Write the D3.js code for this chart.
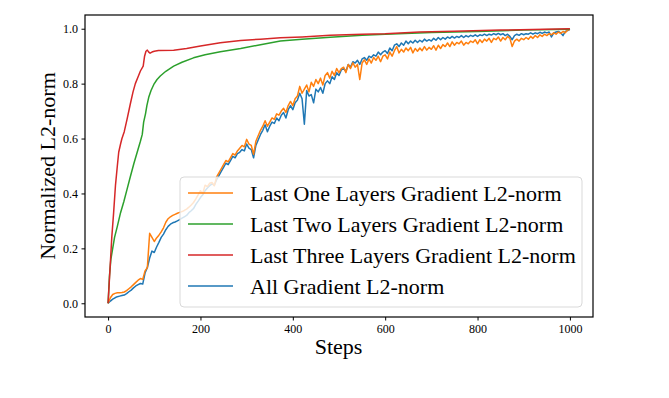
<!DOCTYPE html>
<html>
<head>
<meta charset="utf-8">
<script src="https://cdn.jsdelivr.net/npm/d3@7"></script>
<style>
  body { margin: 0; background: #fff; }
  text { font-family: "Liberation Serif", "Times New Roman", serif; }
</style>
</head>
<body>
<div id="chart"></div>
<script>
// steps for the noisy series (every 5 steps)
var noisySteps = d3.range(0, 1001, 5);

// Last One Layers Gradient L2-norm (orange)
var lastOne = [
  0, .020, .032, .036, .038, .038, .039, .041, .046, .053,
  .060, .068, .076, .084, .090, .087, .118, .130, .255, .240,
  .225, .238, .248, .260, .275, .295, .308, .315, .320, .324,
  .328, .331, .334, .338, .343, .350, .358, .367, .380, .395,
  .410, .400, .430, .425, .437, .440, .428, .460, .475, .490,
  .505, .520, .515, .530, .545, .540, .555, .565, .575, .570,
  .597, .580, .575, .543, .590, .610, .630, .645, .665, .645,
  .660, .675, .670, .690, .685, .700, .710, .695, .720, .735,
  .720, .745, .755, .790, .765, .780, .795, .770, .805, .790,
  .815, .800, .820, .795, .830, .840, .820, .845, .830, .855,
  .840, .855, .860, .840, .870, .855, .876, .860, .870, .815,
  .875, .887, .870, .890, .875, .895, .885, .900, .880, .900,
  .905, .890, .915, .900, .920, .935, .912, .925, .915, .930,
  .920, .932, .912, .928, .918, .930, .920, .935, .922, .932,
  .925, .938, .922, .940, .928, .942, .935, .948, .935, .952,
  .940, .950, .945, .955, .940, .950, .945, .955, .950, .960,
  .945, .960, .950, .962, .955, .965, .950, .965, .960, .970,
  .955, .968, .960, .972, .965, .935, .955, .962, .955, .965,
  .960, .968, .962, .972, .965, .975, .968, .978, .972, .980,
  .975, .982, .978, .985, .980, .988, .983, .990, .985, .995,
  .997
];

// All Gradient L2-norm (blue)
var allGrad = [
  0, .008, .015, .020, .024, .026, .028, .030, .035, .042,
  .048, .056, .063, .068, .072, .070, .110, .130, .165, .190,
  .185, .205, .222, .240, .252, .268, .280, .288, .293, .296,
  .300, .305, .310, .315, .320, .330, .337, .345, .360, .372,
  .385, .395, .410, .420, .428, .435, .430, .450, .465, .480,
  .495, .510, .505, .520, .535, .530, .545, .550, .560, .555,
  .580, .565, .560, .530, .575, .595, .615, .630, .650, .625,
  .645, .660, .655, .675, .665, .685, .695, .675, .705, .720,
  .705, .730, .740, .765, .745, .652, .775, .755, .760, .730,
  .780, .770, .786, .765, .800, .810, .800, .825, .815, .840,
  .830, .850, .855, .845, .870, .860, .880, .875, .885, .870,
  .890, .895, .885, .900, .895, .905, .900, .915, .905, .915,
  .920, .910, .930, .920, .940, .945, .935, .948, .940, .955,
  .945, .955, .948, .958, .950, .958, .952, .962, .955, .960,
  .955, .965, .958, .968, .960, .968, .962, .970, .965, .972,
  .966, .972, .968, .975, .968, .975, .970, .976, .972, .978,
  .972, .978, .975, .980, .975, .980, .977, .982, .978, .983,
  .978, .982, .975, .980, .972, .960, .975, .980, .976, .982,
  .978, .982, .980, .985, .980, .985, .982, .987, .983, .988,
  .985, .988, .970, .985, .988, .990, .985, .975, .990, .993,
  .998
];

// Last Two Layers Gradient L2-norm (green)
var lastTwoSteps = [0, 3, 6, 9, 14, 20, 27, 34, 41, 48, 56, 63, 70, 74, 77, 81, 84, 88, 93, 99,
  106, 113, 125, 142, 160, 185, 210, 243, 287, 330, 373, 420, 481, 550, 600, 700, 800, 900, 1000];
var lastTwo = [0, .10, .16, .19, .24, .28, .33, .37, .415, .46, .51, .55, .59, .615, .66, .69, .72, .75, .775, .797,
  .815, .828, .845, .864, .878, .894, .905, .916, .928, .942, .955, .962, .969, .976, .980, .986, .990, .995, .998];

// Last Three Layers Gradient L2-norm (red)
var lastThreeSteps = [0, 4, 8, 12, 16, 20, 23, 27, 30, 35, 41, 48, 54, 59, 65, 70, 76, 79, 82, 85,
  88, 91, 95, 100, 109, 142, 170, 200, 243, 287, 330, 373, 420, 481, 550, 600, 675, 750, 850, 1000];
var lastThree = [0, .12, .24, .33, .43, .50, .55, .58, .60, .625, .67, .725, .77, .80, .825, .846, .864, .90, .918, .922,
  .915, .911, .915, .918, .921, .922, .928, .937, .949, .957, .962, .967, .970, .976, .980, .982, .988, .991, .995, 1.0];

var xTicks = [0, 200, 400, 600, 800, 1000];
var yTicks = [0, 0.2, 0.4, 0.6, 0.8, 1.0];
var legendLabels = ["Last One Layers Gradient L2-norm", "Last Two Layers Gradient L2-norm",
  "Last Three Layers Gradient L2-norm", "All Gradient L2-norm"];
var legendColors = ["#ff7f0e", "#2ca02c", "#d62728", "#1f77b4"];

var W = 669, H = 398;
var plot = {left: 85, right: 593, top: 15, bottom: 317};
var serif = "'Liberation Serif', 'Times New Roman', serif";

var x = d3.scaleLinear().domain([-50, 1050]).range([plot.left, plot.right]);
var y = d3.scaleLinear().domain([-0.05, 1.05]).range([plot.bottom, plot.top]);

var svg = d3.select("#chart").append("svg")
    .attr("width", W)
    .attr("height", H);

svg.append("defs").append("clipPath").attr("id", "clip")
  .append("rect")
    .attr("x", plot.left).attr("y", plot.top)
    .attr("width", plot.right - plot.left).attr("height", plot.bottom - plot.top);

var line = d3.line()
    .x(function(d) { return x(d[0]); })
    .y(function(d) { return y(d[1]); });

function pairs(xs, ys) {
    return xs.map(function(s, i) { return [s, ys[i]]; });
}

var series = [
    {data: pairs(noisySteps, allGrad), color: "#1f77b4"},
    {data: pairs(noisySteps, lastOne), color: "#ff7f0e"},
    {data: pairs(lastTwoSteps, lastTwo), color: "#2ca02c"},
    {data: pairs(lastThreeSteps, lastThree), color: "#d62728"}
];

var lines = svg.append("g").attr("clip-path", "url(#clip)");
series.forEach(function(s) {
    lines.append("path")
        .datum(s.data)
        .attr("d", line)
        .attr("fill", "none")
        .attr("stroke", s.color)
        .attr("stroke-width", 1.5)
        .attr("stroke-linejoin", "round");
});

// axes
var xAxis = svg.append("g")
    .attr("transform", "translate(0," + plot.bottom + ")")
    .call(d3.axisBottom(x).tickValues(xTicks).tickFormat(d3.format("d")).tickSize(3.5).tickPadding(3.5));
var yAxis = svg.append("g")
    .attr("transform", "translate(" + plot.left + ",0)")
    .call(d3.axisLeft(y).tickValues(yTicks).tickFormat(d3.format(".1f")).tickSize(3.5).tickPadding(3.5));

[xAxis, yAxis].forEach(function(a) {
    a.attr("font-family", serif).attr("font-size", 12);
    a.select(".domain").remove();
    a.selectAll("text").attr("fill", "#000").style("font-family", serif).style("font-size", "12px");
    a.selectAll("line").attr("stroke", "#000").attr("stroke-width", 1);
});

// spines
svg.append("rect")
    .attr("x", plot.left).attr("y", plot.top)
    .attr("width", plot.right - plot.left).attr("height", plot.bottom - plot.top)
    .attr("fill", "none")
    .attr("stroke", "#000")
    .attr("stroke-width", 1.2);

// axis labels
svg.append("text")
    .attr("x", (plot.left + plot.right) / 2 - 0.5)
    .attr("y", 354)
    .attr("text-anchor", "middle")
    .attr("font-size", 22)
    .text("Steps");

svg.append("text")
    .attr("transform", "translate(55," + ((plot.top + plot.bottom) / 2) + ") rotate(-90)")
    .attr("text-anchor", "middle")
    .attr("font-size", 22)
    .text("Normalized L2-norm");

// legend
var legend = svg.append("g");
legend.append("rect")
    .attr("x", 180).attr("y", 177)
    .attr("width", 402).attr("height", 130)
    .attr("rx", 4).attr("ry", 4)
    .attr("fill", "rgba(255,255,255,0.8)")
    .attr("stroke", "#d9d9d9")
    .attr("stroke-width", 1);

legendLabels.forEach(function(label, i) {
    var ly = 193 + i * 31;
    legend.append("line")
        .attr("x1", 188).attr("x2", 233)
        .attr("y1", ly).attr("y2", ly)
        .attr("stroke", legendColors[i])
        .attr("stroke-width", 1.5);
    legend.append("text")
        .attr("x", 250)
        .attr("y", ly)
        .attr("dy", "0.35em")
        .attr("font-size", 22)
        .text(label);
});
</script>
</body>
</html>
